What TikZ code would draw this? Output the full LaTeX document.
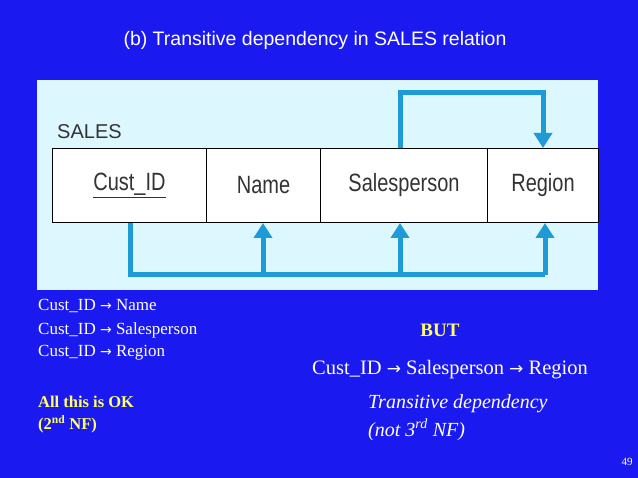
\documentclass[tikz,border=0pt]{standalone}
\usepackage{fontspec}
\setmainfont{Liberation Serif}
\setsansfont{Liberation Sans}
\usetikzlibrary{arrows.meta}
\definecolor{bg}{HTML}{1A1AF0}
\definecolor{panel}{HTML}{DDF7FF}
\definecolor{arr}{HTML}{1E9AD6}
\definecolor{yel}{HTML}{FFFF66}
\tikzset{
 cell/.style={draw=black,line width=1pt,fill=white,minimum height=74pt,inner sep=0pt,anchor=north west,font=\sffamily\fontsize{25}{27}\selectfont,text=black!80},
 fd/.style={draw=arr,line width=5pt,-{Triangle[length=15pt,width=18pt]}},
 fdl/.style={draw=arr,line width=5pt},
 wt/.style={text=white,font=\fontsize{17}{19}\selectfont,anchor=west,inner sep=0pt},
 yt/.style={text=yel,font=\bfseries\fontsize{16.5}{19}\selectfont,anchor=west,inner sep=0pt}
}
\begin{document}
\begin{tikzpicture}[x=1pt,y=-1pt]
\fill[bg] (0,0) rectangle (638,478);
\useasboundingbox (0,0) rectangle (638,478);
\fill[panel] (37,80) rectangle (598,290);
\node[text=white,font=\sffamily\fontsize{19.5}{22}\selectfont] (title) at (315,40) {(b) Transitive dependency in SALES relation};
\node[text=black!80,font=\sffamily\fontsize{20}{22}\selectfont,anchor=west,inner sep=0pt] (sales) at (57,132) {SALES};
\node[cell,minimum width=154pt] (c1) at (52,148) {\scalebox{0.8}[1]{\underline{Cust\_ID}}};
\node[cell,minimum width=114pt] (c2) at (206,148) {\scalebox{0.8}[1]{Name}};
\node[cell,minimum width=167pt] (c3) at (320,148) {\scalebox{0.8}[1]{Salesperson}};
\node[cell,minimum width=111pt] (c4) at (487,148) {\scalebox{0.8}[1]{Region}};
\coordinate (b1) at (130,275);
\coordinate (b2) at (263,275);
\coordinate (b3) at (400,275);
\coordinate (b4) at (545,275);
\coordinate (t3) at (400,93);
\coordinate (t4) at (543,93);
\draw[fdl] (c1.south -| b1) -- (b1) -- (b4);
\draw[fd] (b2) -- (c2.south -| b2);
\draw[fd] (b3) -- (c3.south -| b3);
\draw[fd] (b4) -- (c4.south -| b4);
\draw[fd] (c3.north -| t3) -- (t3) -- (t4) -- (c4.north -| t4);
\node[wt] (l1) at (38,306) {Cust\_ID {\fontspec{DejaVu Sans}\fontsize{14}{16}\selectfont→} Name};
\node[wt] (l2) at (38,330) {Cust\_ID {\fontspec{DejaVu Sans}\fontsize{14}{16}\selectfont→} Salesperson};
\node[wt] (l3) at (38,353) {Cust\_ID {\fontspec{DejaVu Sans}\fontsize{14}{16}\selectfont→} Region};
\node[yt] (ok) at (38,402) {All this is OK};
\node[yt] (nf) at (38,424) {(2\textsuperscript{nd} NF)};
\node[text=yel,font=\bfseries\fontsize{19}{21}\selectfont] (but) at (440,330) {BUT};
\node[text=white,font=\fontsize{20.5}{23}\selectfont] (tr) at (450,370) {Cust\_ID {\fontspec{DejaVu Sans}\fontsize{17}{19}\selectfont→} Salesperson {\fontspec{DejaVu Sans}\fontsize{17}{19}\selectfont→} Region};
\node[wt,font=\itshape\fontsize{20}{22}\selectfont] (t1) at (368,404) {Transitive dependency};
\node[wt,font=\itshape\fontsize{20}{22}\selectfont] (t2) at (368,430) {(not 3\textsuperscript{rd} NF)};
\node[text=white,font=\fontsize{11}{12}\selectfont] (pg) at (627,462) {49};
\end{tikzpicture}
\end{document}
